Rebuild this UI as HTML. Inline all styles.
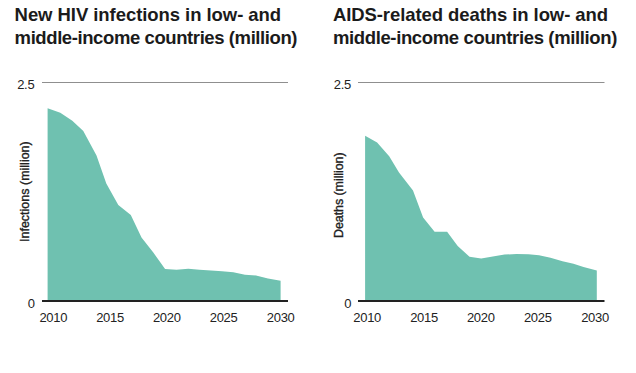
<!DOCTYPE html>
<html><head><meta charset="utf-8">
<style>
html,body{margin:0;padding:0;background:#fff;}
body{width:636px;height:373px;position:relative;overflow:hidden;font-family:"Liberation Sans",sans-serif;color:#1a1a1a;}
.t{position:absolute;white-space:nowrap;font-weight:bold;font-size:18.5px;line-height:22px;color:#1b1b1b;}
.n{position:absolute;white-space:nowrap;font-size:13px;line-height:13px;color:#222;}
.xl{position:absolute;white-space:nowrap;font-size:13px;line-height:13px;color:#222;width:40px;text-align:center;letter-spacing:-0.3px;}
.yl{position:absolute;white-space:nowrap;font-size:12.5px;line-height:12px;color:#222;-webkit-text-stroke:0.35px #222;transform-origin:0 0;transform:rotate(-90deg);}
svg{position:absolute;left:0;top:0;}
</style></head><body>
<svg width="636" height="373" viewBox="0 0 636 373">
  <path fill="#6fc1b0" d="M47.6 301 L47.6 108.2 L60.3 112.8 L72.3 120.8 L83.3 131 L96.5 155.5 L106.3 183.4 L118.3 204.9 L130.8 215 L141.5 237.5 L153.5 252.8 L165.1 269.1 L176.5 269.8 L188.3 268.75 L199.5 269.7 L211 270.4 L222 271.3 L233.3 272.3 L245 274.8 L256 275.4 L268 278.6 L280.6 280.75 L280.6 301 Z"/>
  <path fill="#6fc1b0" d="M365.1 301 L365.1 135.8 L377.1 142.5 L389.2 156.2 L399 172.6 L413 190.5 L423.1 217.4 L434.6 231.7 L447.1 231.7 L457.7 245.9 L469.5 256.75 L481.2 258.4 L492.8 256.6 L504.5 254.6 L516.5 254 L528.5 254.3 L539 255.3 L550.5 257.8 L562.5 261.2 L573.5 263.8 L583.5 267 L596.8 270.5 L596.8 301 Z"/>
  <rect x="42" y="82" width="246" height="1" fill="#8f8f8f"/>
  <rect x="358" y="82" width="246.5" height="1" fill="#8f8f8f"/>
  <rect x="42" y="300" width="246" height="2" fill="#222"/>
  <rect x="358" y="300" width="246.5" height="2" fill="#222"/>
</svg>

<div class="t" style="left:14.6px;top:4.3px;letter-spacing:-0.06px;">New HIV infections in low- and</div>
<div class="t" style="left:14.6px;top:26.8px;letter-spacing:-0.41px;">middle-income countries (million)</div>
<div class="t" style="left:332.9px;top:4.3px;letter-spacing:-0.08px;">AIDS-related deaths in low- and</div>
<div class="t" style="left:332.9px;top:26.8px;letter-spacing:-0.36px;">middle-income countries (million)</div>

<div class="n" style="left:17.2px;top:78px;letter-spacing:-0.3px;">2.5</div>
<div class="n" style="left:27.8px;top:296.6px;">0</div>
<div class="n" style="left:333.8px;top:78px;letter-spacing:-0.3px;">2.5</div>
<div class="n" style="left:344.2px;top:296.6px;">0</div>

<div class="xl" style="left:33.3px;top:311px;">2010</div>
<div class="xl" style="left:90px;top:311px;">2015</div>
<div class="xl" style="left:146.8px;top:311px;">2020</div>
<div class="xl" style="left:203.6px;top:311px;">2025</div>
<div class="xl" style="left:260.7px;top:311px;">2030</div>

<div class="xl" style="left:347.2px;top:311px;">2010</div>
<div class="xl" style="left:404px;top:311px;">2015</div>
<div class="xl" style="left:460.8px;top:311px;">2020</div>
<div class="xl" style="left:517.8px;top:311px;">2025</div>
<div class="xl" style="left:575px;top:311px;">2030</div>

<div class="yl" style="left:19px;top:242px;">Infections (million)</div>
<div class="yl" style="left:333px;top:238px;letter-spacing:-0.08px;">Deaths (million)</div>
</body></html>
